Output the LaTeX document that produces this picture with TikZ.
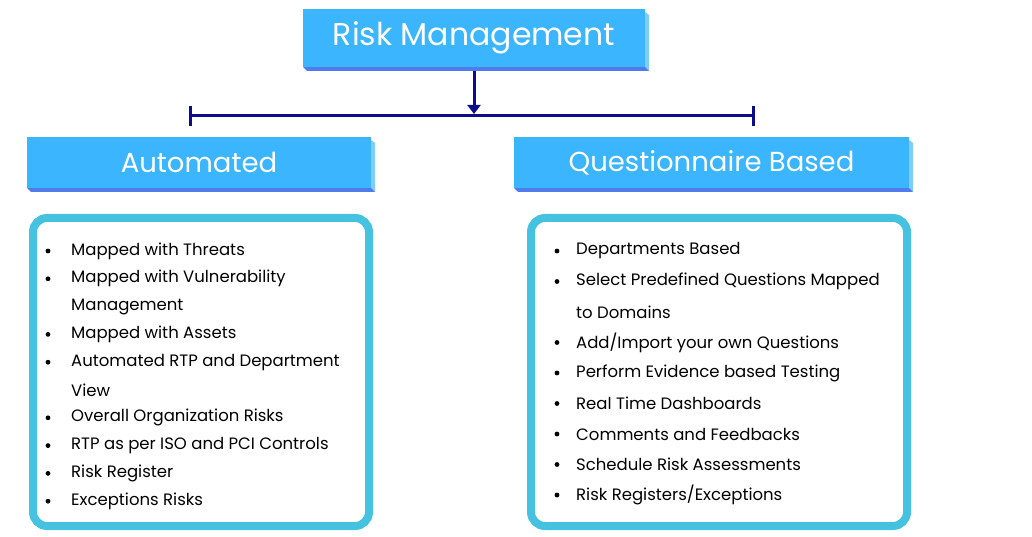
\documentclass[tikz,border=0pt]{standalone}
\usepackage{fontspec}
\setmainfont{Poppins}
\usetikzlibrary{arrows.meta}
\definecolor{boxblue}{HTML}{3BB5FD}
\definecolor{edgeblue}{HTML}{4F7BEF}
\definecolor{sideblue}{HTML}{7FCDF5}
\definecolor{frame}{HTML}{45C2E0}
\definecolor{navy}{HTML}{0D0D8C}
\tikzset{
  head/.style={text=white, inner sep=0pt},
  item/.style={anchor=west, inner sep=0pt, font=\fontsize{16.5}{18}\selectfont},
  listbox/.style={draw=frame, line width=8pt, rounded corners=14pt, fill=white}
}
\newcommand{\headbox}[5]{% name, x1, y1, x2, y2
  \fill[sideblue] (#4,#3+3) -- (#4+4,#3+6) -- (#4+4,#5+4) -- (#4,#5) -- cycle;
  \fill[edgeblue] (#2,#5) -- (#4,#5) -- (#4+4,#5+4) -- (#2+4,#5+4) -- cycle;
  \fill[boxblue] (#2,#3) rectangle (#4,#5);
  \coordinate (#1) at ({(#2+#4)/2},{(#3+#5)/2});
}
\begin{document}
\begin{tikzpicture}[x=1pt,y=-1pt]
    \useasboundingbox (0,0) rectangle (1032,537);
    % Header boxes
    \headbox{risk}{303}{9}{645}{67}
    \node[head, font=\fontsize{31.5}{32}\selectfont] at (risk) {Risk Management};
    \headbox{auto}{27}{137}{371}{188}
    \node[head, font=\fontsize{27.5}{28}\selectfont] at (auto) {Automated};
    \headbox{quest}{514}{137}{909}{188}
    \node[head, font=\fontsize{27.5}{28}\selectfont] at (quest) {Questionnaire Based};

    % Connector bar
    \coordinate (barL) at (190,116);
    \coordinate (barR) at (753,116);
    \coordinate (riskB) at (474,71);
    \coordinate (barM) at (474,114);
    \draw[navy, line width=3pt] (barL) -- (barR);
    \draw[navy, line width=3pt] (190,106) -- (190,126);
    \draw[navy, line width=3pt] (753,106) -- (753,126);
    \draw[navy, line width=3pt, -{Triangle[length=9pt,width=13pt]}] (riskB) -- (barM);

    % List boxes
    \draw[listbox] (33,218) rectangle (369,526);
    \draw[listbox] (531,218) rectangle (907,526);

    % Left list
    \foreach \t/\b [count=\i] in {Mapped with Threats/1, Mapped with Vulnerability/1,
        Management/0, Mapped with Assets/1, Automated RTP and Department/1, View/0,
        Overall Organization Risks/1, RTP as per ISO and PCI Controls/1,
        Risk Register/1, Exceptions Risks/1} {
      \node[item] (l\i) at (71,{251+(\i-1)*27.8}) {\t};
      \ifnum\b=1 \fill (48,{251+(\i-1)*27.8}) circle (2.4); \fi
    }
    % Right list
    \foreach \t/\b [count=\i] in {Departments Based/1, Select Predefined Questions Mapped/1,
        to Domains/0, {Add/Import your own Questions}/1, Perform Evidence based Testing/1,
        Real Time Dashboards/1, Comments and Feedbacks/1, Schedule Risk Assessments/1,
        {Risk Registers/Exceptions}/1} {
      \node[item] (r\i) at (576,{251+(\i-1)*30.5}) {\t};
      \ifnum\b=1 \fill (557,{251+(\i-1)*30.5}) circle (2.4); \fi
    }
\end{tikzpicture}
\end{document}
